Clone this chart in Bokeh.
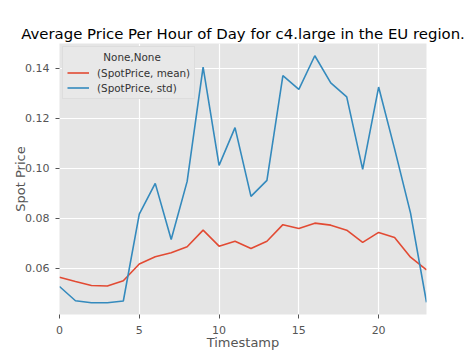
from bokeh.plotting import figure
from bokeh.models import Range1d, Legend, LegendItem, FixedTicker, CustomJSTickFormatter
from bokeh.embed import file_html
from bokeh.resources import INLINE

hours = list(range(24))
mean_price = [0.0565, 0.0548, 0.0532, 0.0530, 0.0551, 0.0618, 0.0647, 0.0663, 0.0687, 0.0753,
              0.0689, 0.0709, 0.0680, 0.0709, 0.0775, 0.0760, 0.0781, 0.0773, 0.0753, 0.0704,
              0.0744, 0.0724, 0.0645, 0.0594]
std_price = [0.0528, 0.0471, 0.0463, 0.0463, 0.0470, 0.0817, 0.0940, 0.0716, 0.0948, 0.1405,
             0.1012, 0.1163, 0.0888, 0.0952, 0.1371, 0.1316, 0.1450, 0.1342, 0.1286, 0.0996,
             0.1325, 0.1078, 0.0821, 0.0465]
y_ticks = [0.06, 0.08, 0.10, 0.12, 0.14]
x_ticks = [0, 5, 10, 15, 20]
series_labels = ["(SpotPrice, mean)", "(SpotPrice, std)"]
legend_title_text = "None,None"

FONT = "DejaVu Sans"
p = figure(width=466, height=347, output_backend="svg", toolbar_location=None,
           x_range=Range1d(0, 23), y_range=Range1d(0.0416, 0.1499),
           title="Average Price Per Hour of Day for c4.large in the EU region.")
p.min_border_left = 59
p.min_border_right = 40
p.min_border_top = 43
p.min_border_bottom = 33
p.frame_width = 367
p.frame_height = 271

p.background_fill_color = "#E5E5E5"
p.border_fill_color = "white"
p.outline_line_color = None
p.title.text_font = FONT
p.title.text_font_size = "14.9px"
p.title.text_font_style = "normal"
p.title.align = "center"
p.title.text_color = "black"
p.title.standoff = 2

for g in (p.xgrid, p.ygrid):
    g.grid_line_color = "white"
    g.grid_line_width = 1.2
p.xaxis.ticker = FixedTicker(ticks=x_ticks)
p.yaxis.ticker = FixedTicker(ticks=y_ticks)
p.yaxis.formatter = CustomJSTickFormatter(code="return tick.toFixed(2);")
for ax in (p.xaxis, p.yaxis):
    ax.axis_line_color = None
    ax.major_tick_line_color = "#555555"
    ax.major_tick_in = 0
    ax.major_tick_out = 4
    ax.minor_tick_line_color = None
    ax.major_label_text_font = FONT
    ax.major_label_text_font_size = "11px"
    ax.major_label_text_color = "#555555"
    ax.axis_label_text_font = FONT
    ax.axis_label_text_font_size = "13px"
    ax.axis_label_text_font_style = "normal"
    ax.axis_label_text_color = "#555555"
p.xaxis.axis_label = "Timestamp"
p.yaxis.axis_label = "Spot Price"
p.xaxis.major_label_standoff = 7
p.xaxis.axis_label_standoff = -2
p.yaxis.major_label_standoff = 6
p.yaxis.axis_label_standoff = -6

r1 = p.line(hours, mean_price, line_color="#E24A33", line_width=1.6)
r2 = p.line(hours, std_price, line_color="#348ABD", line_width=1.6)

# non-breaking spaces centre the legend title over the entries
legend = Legend(items=[LegendItem(label=series_labels[0], renderers=[r1]),
                       LegendItem(label=series_labels[1], renderers=[r2])],
                location="top_left", title="\u00a0" * 11 + legend_title_text)
legend.title_text_font = FONT
legend.title_text_font_size = "10.4px"
legend.title_text_font_style = "normal"
legend.title_text_color = "#333333"
legend.label_text_font = FONT
legend.label_text_font_size = "10.4px"
legend.label_text_color = "#333333"
legend.background_fill_color = "#E8E8E8"
legend.background_fill_alpha = 1.0
legend.border_line_color = "#D1D1D1"
legend.glyph_width = 22
legend.glyph_height = 13
legend.label_height = 13
legend.label_standoff = 8
legend.spacing = 2
legend.padding = 4
legend.margin = 3
legend.title_standoff = 3
p.add_layout(legend)

open("out.html", "w").write(file_html(p, INLINE))
